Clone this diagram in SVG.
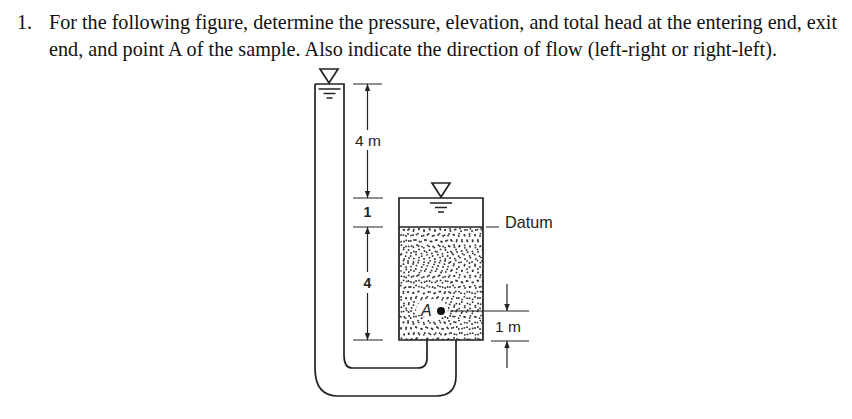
<svg xmlns="http://www.w3.org/2000/svg" width="852" height="419" viewBox="0 0 852 419">
<style>
.t{font-family:"Liberation Serif","Times New Roman",serif;font-size:20.15px;fill:#111}
.l{font-family:"Liberation Sans",Arial,sans-serif;fill:#222}
.s{fill:none;stroke:#222;stroke-width:1.7}
.d{fill:none;stroke:#222;stroke-width:1.2}
.w{fill:none;stroke:#222;stroke-width:1.7}
.g{fill:none;stroke:#333;stroke-width:1.8;stroke-linecap:round}
</style>
<defs>
<marker id="ah" markerUnits="userSpaceOnUse" markerWidth="7" markerHeight="10" refX="9" refY="3.5" viewBox="0 0 9 7" orient="auto-start-reverse"><path d="M0 0L9 3.5L0 7Z" fill="#222"/></marker>
<pattern id="ga" patternUnits="userSpaceOnUse" width="37" height="31"><path class="g" d="M1.5 2h.1M6.8 3.500h.1M12 1.500h.1M17.500 3h.1M22.500 2h.1M28.300 3.300h.1M33.500 1.400h.1M3.600 8h.1M9 6.500h.1M14.600 8.200h.1M20 6.800h.1M25.600 8h.1M30.800 6.700h.1M35.600 8.200h.1M1 13h.1M6.400 14h.1M11.700 12.400h.1M17 14.200h.1M23 12.800h.1M28 14h.1M33.400 12.600h.1M4 18.600h.1M9.400 17.600h.1M14.800 19h.1M20.300 17.800h.1M25.500 19.200h.1M31 18h.1M36 19h.1M1.800 24h.1M7 23h.1M12.400 24.600h.1M17.800 23h.1M23.400 24.400h.1M28.600 23.200h.1M34 24.500h.1M4.600 29h.1M10 28h.1M15 29.600h.1M20.600 28.400h.1M26 29.500h.1M31.400 28.200h.1M36 29.400h.1"/></pattern>
<pattern id="gb" patternUnits="userSpaceOnUse" width="41" height="29"><path class="g" d="M3 3h.1M8 1.600h.1M13.600 3.600h.1M18.400 2h.1M24 3.400h.1M29.400 1.700h.1M34.400 3.200h.1M39 2h.1M.8 9h.1M5.800 8h.1M11 9.600h.1M16 8.200h.1M21.600 9.400h.1M26.800 8h.1M32 9.800h.1M37.200 8.400h.1M3.400 15.200h.1M8.600 14h.1M13.800 15.800h.1M19 14.400h.1M24.400 15.600h.1M29.600 14.200h.1M35 15.700h.1M39.600 14.400h.1M1 21h.1M6 20h.1M11.400 21.600h.1M16.600 20.200h.1M21.800 21.400h.1M27 20h.1M32.400 21.800h.1M37.600 20.400h.1M3.800 26.600h.1M9 25.600h.1M14 27h.1M19.400 25.800h.1M24.800 27h.1M30 25.600h.1M35.200 27h.1M40 26h.1"/></pattern>
<g id="wl"><path class="w" d="M-11 0H11M-6 4.500H6M-3 9H3"/></g>
</defs>
<rect width="852" height="419" fill="#fff"/>
<g id="question">
<text class="t" x="17" y="29">1.</text>
<text class="t" x="49" y="29" textLength="788">For the following figure, determine the pressure, elevation, and total head at the entering end, exit</text>
<text class="t" x="49" y="56" textLength="728">end, and point A of the sample. Also indicate the direction of flow (left-right or right-left).</text>
</g>
<g id="sample">
<rect x="399" y="227" width="84" height="113" fill="#fff"/>
<rect x="399" y="227" width="84" height="113" fill="url(#ga)"/>
<rect x="399" y="227" width="84" height="113" fill="url(#gb)"/>
<ellipse cx="432" cy="309" rx="16" ry="10" fill="#fff" opacity="0.95"/>
<path class="s" d="M399 227V198H483V340H399V227H483"/>
<path class="s" d="M432 183H450L441 197Z"/>
<use href="#wl" x="441" y="203"/>
</g>
<g id="standpipe">
<path class="s" d="M315 84H344V355Q344 368 352 368H418Q427 368 427 358V340M456 340V376Q456 396 436 396H338Q315 396 315 368V84"/>
<path class="s" d="M320 69H338L329 83Z"/>
<use href="#wl" x="329.500" y="89"/>
</g>
<g id="pointA">
<text class="l" x="421" y="315.500" font-size="16" font-style="italic">A</text>
<circle cx="441" cy="311" r="4" fill="#111"/>
</g>
<g id="connectors">
<path class="d" d="M353 84H382M353 198H383M353 227H383M353 340H383M486 227H499M450 311H529M491 341H529" stroke-width="1.500"/>
<path class="d" marker-start="url(#ah)" d="M367.500 84V130"/>
<path class="d" marker-end="url(#ah)" d="M367.500 150V198"/>
<path class="d" marker-start="url(#ah)" d="M367.500 227V272"/>
<path class="d" marker-end="url(#ah)" d="M367.500 293V340"/>
<path class="d" marker-end="url(#ah)" d="M507 284V311"/>
<path class="d" marker-start="url(#ah)" d="M507 341V368"/>
</g>
<g id="labels">
<text class="l" x="368" y="146" font-size="15.500" text-anchor="middle">4 m</text>
<text class="l" x="367.500" y="217" font-size="14" font-weight="bold" text-anchor="middle">1</text>
<text class="l" x="367.500" y="288" font-size="14" font-weight="bold" text-anchor="middle">4</text>
<text class="l" x="505" y="228" font-size="16.200">Datum</text>
<text class="l" x="508" y="332" font-size="15.500" text-anchor="middle">1 m</text>
</g>
</svg>
